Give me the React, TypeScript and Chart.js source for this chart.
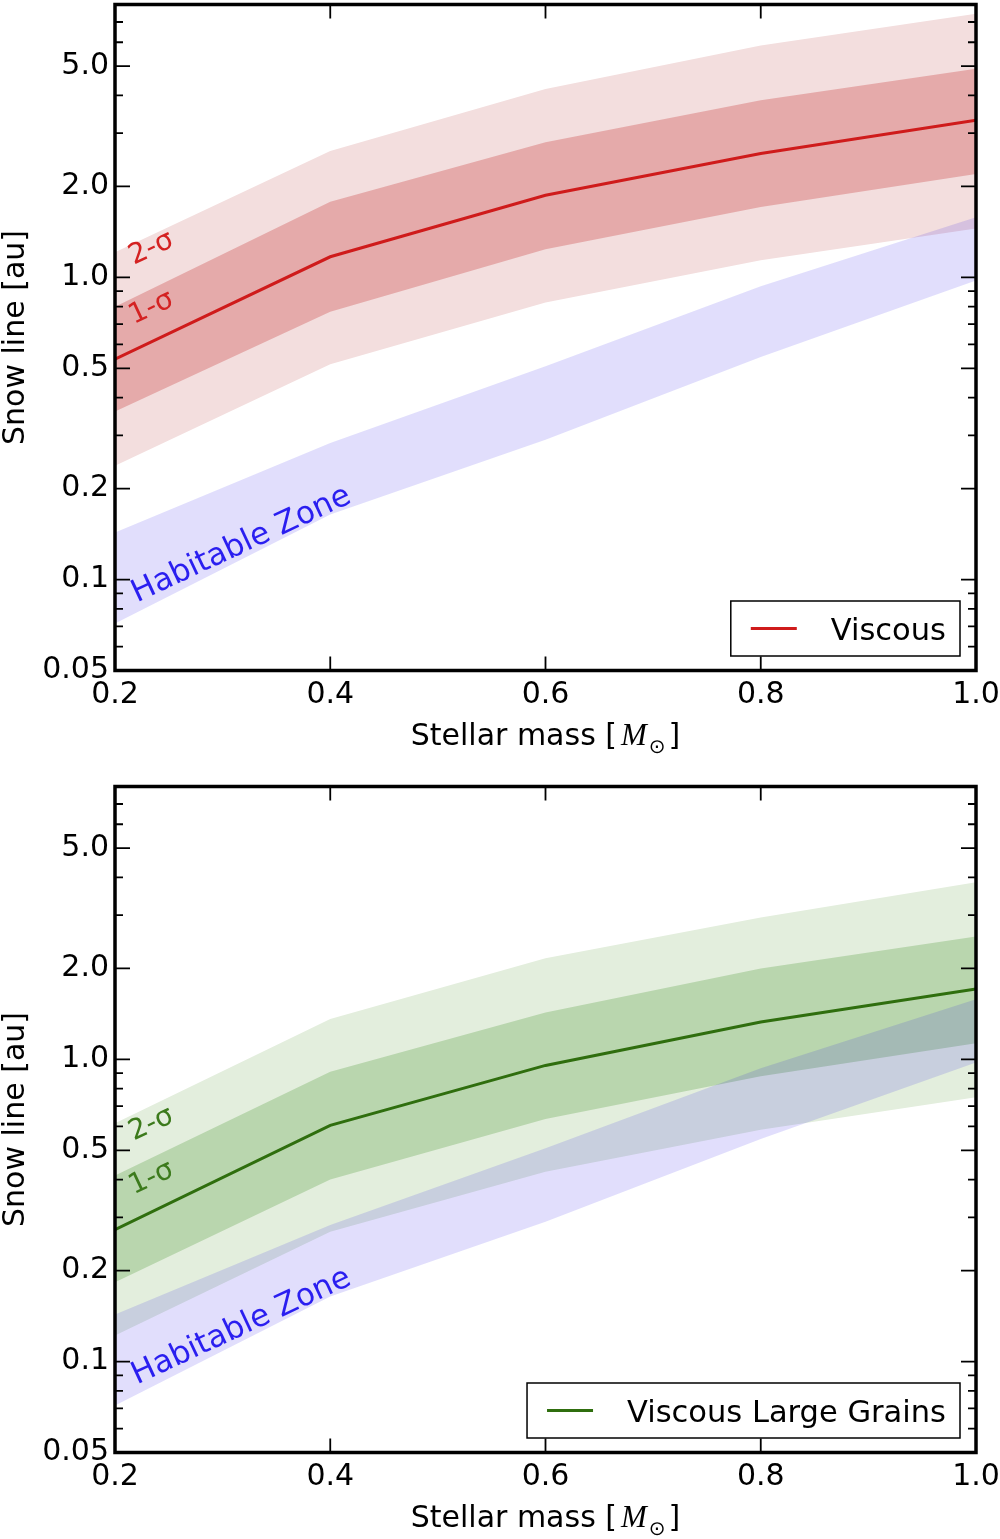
import { useEffect, useRef } from "react";
import { Chart, registerables } from "chart.js";

Chart.register(...registerables);

// Stellar masses sampled by the models [M_sun]
const masses = [0.2, 0.4, 0.6, 0.8, 1.0];

// Viscous disc: snow line median and 1/2-sigma envelopes [au]
const viscousMean = [0.536, 1.17, 1.87, 2.57, 3.31];
const viscous1Hi = [0.8, 1.78, 2.8, 3.86, 4.9];
const viscous1Lo = [0.36, 0.77, 1.24, 1.71, 2.2];
const viscous2Hi = [1.21, 2.62, 4.2, 5.85, 7.46];
const viscous2Lo = [0.238, 0.516, 0.825, 1.14, 1.45];

// Viscous disc with large grains
const largeMean = [0.273, 0.605, 0.955, 1.33, 1.71];
const large1Hi = [0.413, 0.91, 1.43, 2.0, 2.55];
const large1Lo = [0.183, 0.4, 0.635, 0.88, 1.13];
const large2Hi = [0.615, 1.36, 2.16, 2.95, 3.86];
const large2Lo = [0.122, 0.269, 0.425, 0.585, 0.75];

// Habitable zone boundaries [au]
const hzOuter = [0.143, 0.283, 0.508, 0.934, 1.58];
const hzInner = [0.0716, 0.164, 0.29, 0.545, 0.977];

// Axis ticks
const yTickValues = [0.05, 0.1, 0.2, 0.5, 1, 2, 5];
const yTickLabels = ["0.05", "0.1", "0.2", "0.5", "1.0", "2.0", "5.0"];
const yMinorValues = [0.06, 0.07, 0.08, 0.09, 0.3, 0.4, 0.6, 0.7, 0.8, 0.9, 3, 4, 6, 7];
const xTickValues = [0.2, 0.4, 0.6, 0.8, 1.0];
const xTickLabels = ["0.2", "0.4", "0.6", "0.8", "1.0"];

const FONT = '"DejaVu Sans", "Noto Sans", sans-serif';
const PLOT_BOTTOM = 670.5;

type Panel = {
  label: string;
  line: string;
  light: string;
  dark: string;
  text: string;
  mean: number[];
  s1Hi: number[];
  s1Lo: number[];
  s2Hi: number[];
  s2Lo: number[];
  twoSigmaY: number;
  oneSigmaY: number;
};

const panels: Panel[] = [
  {
    label: "Viscous",
    line: "#cf1b1b",
    light: "#f3dede",
    dark: "#e5aaaa",
    text: "#d42222",
    mean: viscousMean,
    s1Hi: viscous1Hi,
    s1Lo: viscous1Lo,
    s2Hi: viscous2Hi,
    s2Lo: viscous2Lo,
    twoSigmaY: 1.1,
    oneSigmaY: 0.7,
  },
  {
    label: "Viscous Large Grains",
    line: "#2f6e0e",
    light: "#e3eedd",
    dark: "#b9d6ae",
    text: "#3c7a1c",
    mean: largeMean,
    s1Hi: large1Hi,
    s1Lo: large1Lo,
    s2Hi: large2Hi,
    s2Lo: large2Lo,
    twoSigmaY: 0.539,
    oneSigmaY: 0.357,
  },
];

const pts = (ys: number[]) => masses.map((x, i) => ({ x, y: ys[i] }));

function band(data: number[], color: string | null) {
  return {
    data: pts(data),
    borderWidth: 0,
    pointRadius: 0,
    backgroundColor: color ?? "rgba(0,0,0,0)",
    fill: color ? "+1" : false,
    tension: 0,
  };
}

function makeChart(canvas: HTMLCanvasElement, p: Panel, height: number) {
  const axesPlugin = {
    id: "axesFrame",
    afterDatasetsDraw(chart: any) {
      const { ctx, chartArea: a, scales } = chart;
      const xs = scales.x;
      const ys = scales.y;
      ctx.save();
      ctx.strokeStyle = "#000";
      ctx.lineWidth = 1.8;
      const hTick = (v: number, len: number) => {
        const py = ys.getPixelForValue(v);
        if (py <= a.top + 1 || py >= a.bottom - 1) return;
        ctx.beginPath();
        ctx.moveTo(a.left, py);
        ctx.lineTo(a.left + len, py);
        ctx.moveTo(a.right, py);
        ctx.lineTo(a.right - len, py);
        ctx.stroke();
      };
      yTickValues.forEach((v) => hTick(v, 15));
      yMinorValues.forEach((v) => hTick(v, 8));
      xTickValues.forEach((v) => {
        const px = xs.getPixelForValue(v);
        if (px <= a.left + 1 || px >= a.right - 1) return;
        ctx.beginPath();
        ctx.moveTo(px, a.bottom);
        ctx.lineTo(px, a.bottom - 14);
        ctx.moveTo(px, a.top);
        ctx.lineTo(px, a.top + 14);
        ctx.stroke();
      });
      ctx.lineWidth = 3.5;
      ctx.strokeRect(a.left, a.top, a.right - a.left, a.bottom - a.top);
      ctx.restore();
    },
  };

  const notesPlugin = {
    id: "notes",
    afterDatasetsDraw(chart: any) {
      const { ctx, scales } = chart;
      const xs = scales.x;
      const ys = scales.y;
      const put = (text: string, x: number, y: number, color: string, size: number) => {
        ctx.save();
        ctx.translate(xs.getPixelForValue(x), ys.getPixelForValue(y));
        ctx.rotate((-25 * Math.PI) / 180);
        ctx.fillStyle = color;
        ctx.font = `${size}px ${FONT}`;
        ctx.textBaseline = "alphabetic";
        ctx.textAlign = "left";
        ctx.fillText(text, 0, 0);
        ctx.restore();
      };
      put("2-σ", 0.2175, p.twoSigmaY, p.text, 28);
      put("1-σ", 0.2175, p.oneSigmaY, p.text, 28);
      put("Habitable Zone", 0.2205, 0.084, "#2a1ef0", 31);
    },
  };

  const legendPlugin = {
    id: "boxLegend",
    afterDraw(chart: any) {
      const { ctx, chartArea: a } = chart;
      ctx.save();
      ctx.font = `30.5px ${FONT}`;
      const tw = ctx.measureText(p.label).width;
      const right = a.right - 16;
      const bottom = a.bottom - 14.5;
      const h = 55;
      const w = tw + 100 + 14;
      const left = right - w;
      const top = bottom - h;
      ctx.fillStyle = "#fff";
      ctx.fillRect(left, top, w, h);
      ctx.strokeStyle = "#000";
      ctx.lineWidth = 1.5;
      ctx.strokeRect(left, top, w, h);
      const cy = top + h / 2;
      ctx.strokeStyle = p.line;
      ctx.lineWidth = 3;
      ctx.beginPath();
      ctx.moveTo(left + 20, cy);
      ctx.lineTo(left + 66, cy);
      ctx.stroke();
      ctx.fillStyle = "#000";
      ctx.textBaseline = "alphabetic";
      ctx.textAlign = "left";
      ctx.fillText(p.label, left + 100, cy + 11);
      ctx.restore();
    },
  };

  const xTitlePlugin = {
    id: "xTitle",
    afterDraw(chart: any) {
      const { ctx, chartArea: a } = chart;
      ctx.save();
      const base = a.bottom + 74.5;
      const partA = "Stellar mass [";
      const fA = `30px ${FONT}`;
      const fM = 'italic 31px "Liberation Serif", "DejaVu Serif", serif';
      const fS = `20px ${FONT}`;
      ctx.font = fA;
      const wA = ctx.measureText(partA).width;
      const wB = ctx.measureText("]").width;
      ctx.font = fM;
      const wM = ctx.measureText("M").width;
      ctx.font = fS;
      const wS = ctx.measureText("⊙").width;
      const total = wA + 4 + wM + 2 + wS + 3 + wB;
      let x = (a.left + a.right) / 2 - total / 2;
      ctx.fillStyle = "#000";
      ctx.textAlign = "left";
      ctx.textBaseline = "alphabetic";
      ctx.font = fA;
      ctx.fillText(partA, x, base);
      x += wA + 4;
      ctx.font = fM;
      ctx.fillText("M", x, base);
      x += wM + 2;
      ctx.font = fS;
      ctx.textBaseline = "middle";
      ctx.fillText("⊙", x, base + 3);
      x += wS + 3;
      ctx.textBaseline = "alphabetic";
      ctx.font = fA;
      ctx.fillText("]", x, base);
      ctx.restore();
    },
  };

  const hzColor = "rgba(20,0,230,0.13)";

  return new Chart(canvas, {
    type: "line",
    data: {
      datasets: [
        {
          label: p.label,
          data: pts(p.mean),
          borderColor: p.line,
          borderWidth: 3,
          pointRadius: 0,
          fill: false,
          tension: 0,
        },
        band(hzOuter, hzColor),
        band(hzInner, null),
        band(p.s1Hi, p.dark),
        band(p.s1Lo, null),
        band(p.s2Hi, p.light),
        band(p.s2Lo, null),
      ],
    },
    options: {
      animation: false,
      responsive: false,
      maintainAspectRatio: false,
      events: [],
      layout: { padding: { left: 0, top: 4.5, right: 24, bottom: 0 } },
      plugins: {
        legend: { display: false },
        tooltip: { enabled: false },
        filler: { propagate: false },
      },
      scales: {
        x: {
          type: "linear",
          min: 0.2,
          max: 1.0,
          afterBuildTicks: (s: any) => {
            s.ticks = xTickValues.map((v) => ({ value: v }));
          },
          afterFit: (s: any) => {
            s.height = height - PLOT_BOTTOM;
            s.paddingLeft = 0;
            s.paddingRight = 0;
          },
          ticks: {
            autoSkip: false,
            maxRotation: 0,
            padding: 7,
            color: "#000",
            font: { family: FONT, size: 30 },
            callback: (_v: any, i: number) => xTickLabels[i],
          },
          grid: { display: false, drawTicks: false },
          border: { display: false },
        },
        y: {
          type: "logarithmic",
          min: 0.05,
          max: 8,
          afterBuildTicks: (s: any) => {
            s.ticks = yTickValues.map((v) => ({ value: v }));
          },
          afterFit: (s: any) => {
            s.width = 115;
            s.paddingTop = 0;
            s.paddingBottom = 0;
          },
          ticks: {
            autoSkip: false,
            padding: 6,
            color: "#000",
            font: { family: FONT, size: 30 },
            callback: (_v: any, i: number) => yTickLabels[i],
          },
          grid: { display: false, drawTicks: false },
          border: { display: false },
          title: {
            display: true,
            text: "Snow line [au]",
            color: "#000",
            font: { family: FONT, size: 30, lineHeight: 1.1 },
            padding: 0,
          },
        },
      },
    },
    plugins: [axesPlugin, notesPlugin, legendPlugin, xTitlePlugin],
  } as any);
}

function SnowLinePanel({ panel, height, top }: { panel: Panel; height: number; top: number }) {
  const ref = useRef<HTMLCanvasElement | null>(null);
  useEffect(() => {
    if (!ref.current) return;
    const chart = makeChart(ref.current, panel, height);
    return () => chart.destroy();
  }, [panel, height]);
  return (
    <canvas
      ref={ref}
      width={1000}
      height={height}
      style={{ position: "absolute", left: 0, top, width: 1000, height }}
    />
  );
}

export default function App() {
  return (
    <div
      style={{
        position: "absolute",
        left: 0,
        top: 0,
        width: 1000,
        height: 1539,
        overflow: "hidden",
        background: "#fff",
      }}
    >
      <SnowLinePanel panel={panels[0]} height={770} top={0} />
      <SnowLinePanel panel={panels[1]} height={757} top={782} />
    </div>
  );
}
